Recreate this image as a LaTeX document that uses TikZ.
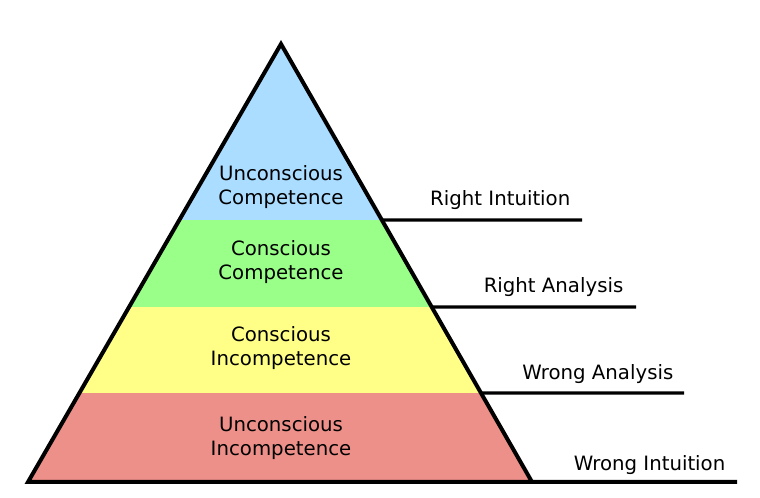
\documentclass[tikz,border=0pt]{standalone}
\usepackage{fontspec}
\setmainfont{DejaVu Sans}
\usetikzlibrary{calc}

\definecolor{ucblue}{RGB}{170,221,255}
\definecolor{ccgreen}{RGB}{153,255,136}
\definecolor{ciyellow}{RGB}{255,255,136}
\definecolor{uired}{RGB}{238,144,138}

\begin{document}
\begin{tikzpicture}[x=0.75pt,y=-0.75pt,
    level/.style={font=\fontsize{14.8}{18}\selectfont, align=center},
    tag/.style={font=\fontsize{14.8}{18}\selectfont, anchor=base east},
    edge/.style={line width=3pt},
    leader/.style={line width=2.5pt}]
    \useasboundingbox (0,0) rectangle (760,498);
    \coordinate (apex) at (281,44);
    \coordinate (left) at (28,482);
    \coordinate (right) at (532,482);
    % coloured bands, cut to the triangle
    \begin{scope}
        \clip (apex) -- (left) -- (right) -- cycle;
        \fill[ucblue] (0,0) rectangle (760,220);
        \fill[ccgreen] (0,220) rectangle (760,307);
        \fill[ciyellow] (0,307) rectangle (760,393);
        \fill[uired] (0,393) rectangle (760,498);
    \end{scope}
    \node[level] (uc) at (281,187) {Unconscious\\Competence};
    \node[level] (cc) at (281,262) {Conscious\\Competence};
    \node[level] (ci) at (281,348) {Conscious\\Incompetence};
    \node[level] (ui) at (281,438) {Unconscious\\Incompetence};
    % outline, base runs on to the right
    \draw[edge] (right) -- (apex) -- (left) -- (737,482) coordinate (wi end);
    % leader lines from the right edge
    \coordinate (ri) at ($(apex)!0.4018!(right)$); % top right
    \coordinate (ra) at ($(apex)!0.6005!(right)$);
    \coordinate (wa) at ($(apex)!0.7968!(right)$);
    \draw[leader] (ri) -- (582,220) coordinate (ri end);
    \draw[leader] (ra) -- (636,307) coordinate (ra end);
    \draw[leader] (wa) -- (684,393) coordinate (wa end);
    \node[tag] (ri label) at ($(ri end)+(-7,-14)$) {Right Intuition};
    \node[tag] (ra label) at ($(ra end)+(-8,-14)$) {Right Analysis};
    \node[tag] (wa label) at ($(wa end)+(-6,-13)$) {Wrong Analysis};
    \node[tag] (wi label) at ($(wi end)+(-7,-12)$) {Wrong Intuition};
\end{tikzpicture}
\end{document}
